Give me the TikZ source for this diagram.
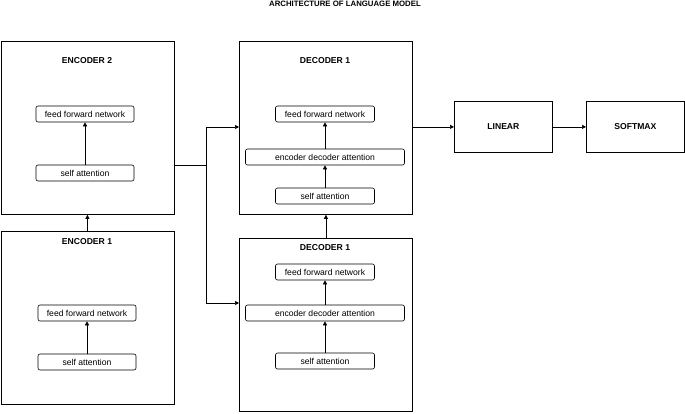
\documentclass[tikz,border=0pt]{standalone}
\usepackage{fontspec}
\setmainfont{Liberation Sans}
\usetikzlibrary{arrows.meta}
\begin{document}
\begin{tikzpicture}[x=1pt,y=-1pt,
  big/.style={draw,line width=0.8pt},
  inner/.style={draw,rounded corners=2pt,line width=0.6pt,inner sep=1pt,font=\fontsize{8.6}{9}\selectfont},
  ttl/.style={font=\bfseries\fontsize{8.6}{9}\selectfont},
  arr/.style={-{Triangle[length=4pt,width=4pt]},line width=0.6pt}]
\useasboundingbox (0,0) rectangle (685,413);
\node[ttl,font=\bfseries\fontsize{7.8}{8}\selectfont] (title) at (345,4) {ARCHITECTURE OF LANGUAGE MODEL};
% boxes
\node[big,minimum width=173,minimum height=173,anchor=north west] (e2) at (0.5,41) {};
\node[big,minimum width=173,minimum height=173,anchor=north west] (e1) at (0.5,231) {};
\node[big,minimum width=173,minimum height=173,anchor=north west] (d2) at (239,41) {};
\node[big,minimum width=173,minimum height=173,anchor=north west] (d1) at (239,238) {};
\node[big,minimum width=98,minimum height=51,anchor=north west,ttl] (lin) at (454,101) {LINEAR};
\node[big,minimum width=98,minimum height=51,anchor=north west,ttl] (sm) at (586,101) {SOFTMAX};
\node[ttl] (e2t) at (87,61) {ENCODER 2};
\node[ttl] (e1t) at (87,242) {ENCODER 1};
\node[ttl] (d2t) at (325,61) {DECODER 1};
\node[ttl] (d1t) at (325,248) {DECODER 1};
% inner
\node[inner,minimum width=98,minimum height=16] (e2f) at (85,114) {feed forward network};
\node[inner,minimum width=98,minimum height=16] (e2s) at (85,173) {self attention};
\node[inner,minimum width=98,minimum height=16] (e1f) at (87,313) {feed forward network};
\node[inner,minimum width=98,minimum height=16] (e1s) at (87,362) {self attention};
\node[inner,minimum width=99,minimum height=16] (d2f) at (325,114) {feed forward network};
\node[inner,minimum width=159,minimum height=16] (d2e) at (325,157) {encoder decoder attention};
\node[inner,minimum width=99,minimum height=16] (d2s) at (325,196) {self attention};
\node[inner,minimum width=99,minimum height=16] (d1f) at (325,272) {feed forward network};
\node[inner,minimum width=159,minimum height=16] (d1e) at (325,313) {encoder decoder attention};
\node[inner,minimum width=99,minimum height=16] (d1s) at (325,361) {self attention};
% arrows
\draw[arr] (e2s) -- (e2f);
\draw[arr] (e1s) -- (e1f);
\draw[arr] (d2s) -- (d2e);
\draw[arr] (d2e) -- (d2f);
\draw[arr] (d1s) -- (d1e);
\draw[arr] (d1e) -- (d1f);
\draw[arr] (e1.north) -- (e2.south);
\draw[arr] (d1.north) -- (d2.south);
\coordinate (j) at (206,165);
\draw[line width=0.6pt] (e2.east |- j) -- (j);
\draw[arr] (j) |- (d2.west |- 0,127);
\draw[arr] (j) |- (d1.west |- 0,303);
\draw[arr] (d2.east |- lin.west) -- (lin.west);
\draw[arr] (lin) -- (sm);
\end{tikzpicture}
\end{document}
